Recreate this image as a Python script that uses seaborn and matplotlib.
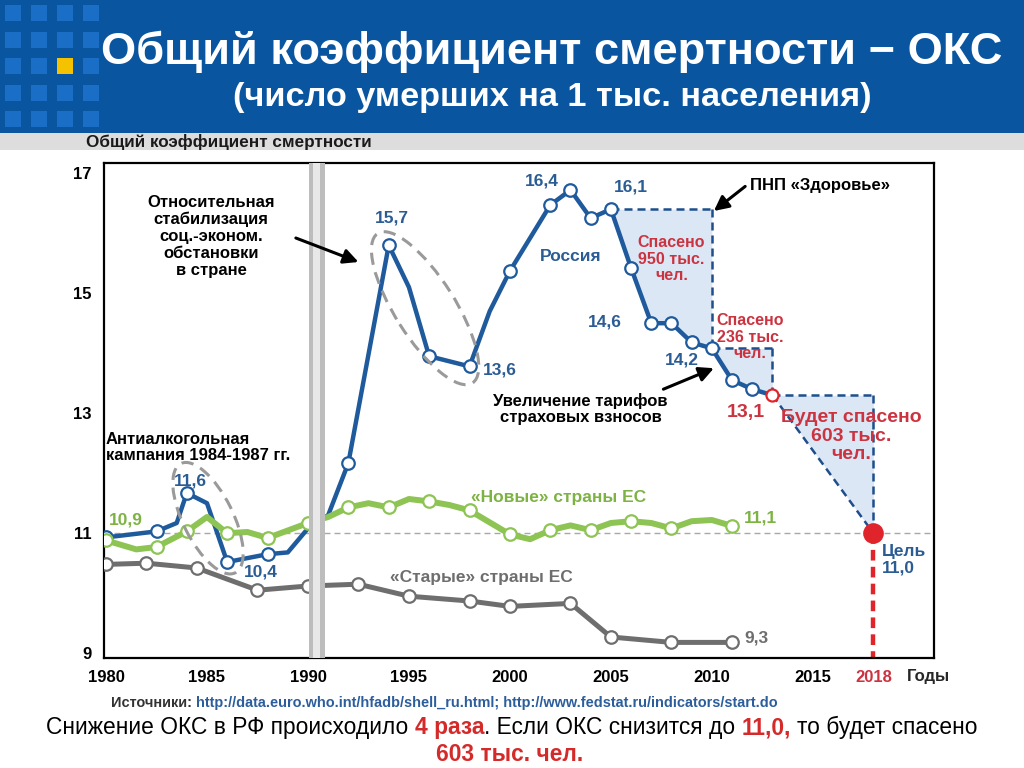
import numpy as np
import pandas as pd
import seaborn as sns
import matplotlib.pyplot as plt
from matplotlib import font_manager
from matplotlib.patches import Rectangle, Ellipse
from matplotlib.transforms import IdentityTransform

# Crude death rate, deaths per 1000 population
# Russia
ru_year = [1980, 1982.5, 1983.5, 1984, 1985, 1986, 1988, 1989, 1990, 1991,
           1992, 1994, 1995, 1996, 1998, 1999, 2000, 2002, 2003, 2004,
           2005, 2006, 2007, 2008, 2009, 2010, 2011, 2012, 2013]
ru_rate = [10.93, 11.03, 11.17, 11.67, 11.5, 10.52, 10.65, 10.68, 11.08, 11.3,
           12.17, 15.8, 15.1, 13.95, 13.78, 14.7, 15.37, 16.47, 16.72, 16.25,
           16.4, 15.42, 14.5, 14.5, 14.18, 14.08, 13.55, 13.4, 13.3]
ru_mark = [1, 1, 0, 1, 0, 1, 1, 0, 0, 0,
           1, 1, 0, 1, 1, 0, 1, 1, 1, 1,
           1, 1, 1, 1, 1, 1, 1, 1, 0]

# "new" EU countries
new_year = [1980, 1981.5, 1982.5, 1984, 1985, 1986, 1987, 1988, 1990, 1991,
            1992, 1993, 1994, 1995, 1996, 1997, 1998, 1999, 2000, 2001,
            2002, 2003, 2004, 2005, 2006, 2007, 2008, 2009, 2010, 2011]
new_rate = [10.88, 10.73, 10.77, 11.03, 11.27, 11.0, 11.02, 10.92, 11.17, 11.27,
            11.43, 11.5, 11.43, 11.57, 11.53, 11.47, 11.38, 11.18, 10.98, 10.9,
            11.05, 11.13, 11.05, 11.17, 11.2, 11.17, 11.08, 11.2, 11.22, 11.12]
new_mark = [1, 0, 1, 1, 0, 1, 0, 1, 1, 0,
            1, 0, 1, 0, 1, 0, 1, 0, 1, 0,
            1, 0, 1, 0, 1, 0, 1, 0, 0, 1]

# "old" EU countries
old_year = [1980, 1982, 1984.5, 1987.5, 1990, 1992.5, 1995, 1998, 2000, 2003, 2005, 2008, 2011]
old_rate = [10.48, 10.5, 10.42, 10.05, 10.12, 10.15, 9.95, 9.87, 9.78, 9.83, 9.27, 9.18, 9.18]

# target
goal_year = 2018
goal_rate = 11.0
pnp_start = 2005      # national project "Health"
tariff_year = 2010    # insurance tariffs raised

x_ticks = [1980, 1985, 1990, 1995, 2000, 2005, 2010, 2015, 2018]
y_ticks = [9, 11, 13, 15, 17]

ru = pd.DataFrame({'year': ru_year, 'rate': ru_rate, 'mark': ru_mark})
new = pd.DataFrame({'year': new_year, 'rate': new_rate, 'mark': new_mark})
old = pd.DataFrame({'year': old_year, 'rate': old_rate})

BLUE = '#1e5a9c'
BLUE_TXT = '#2b5c94'
GREEN = '#8dc453'
GREEN_TXT = '#7db343'
GRAY = '#6e6e6e'
RED = '#e0242b'
RED_TXT = '#cc3340'
FILL = '#dbe7f5'

W, H = 1024, 768
sns.set_style('white')
plt.rcParams['font.family'] = ['Liberation Sans', 'DejaVu Sans']
plt.rcParams['axes.linewidth'] = 1.6
names = {f.name for f in font_manager.fontManager.ttflist}
NARROW = ['Liberation Sans Narrow', 'Liberation Sans'] if 'Liberation Sans Narrow' in names else ['Liberation Sans']

fig = plt.figure(figsize=(W / 100, H / 100), dpi=100)
fig.patch.set_facecolor('white')
renderer = fig.canvas.get_renderer()


def fy(y):
    return 1 - y / H


def fit(t, width):
    w = t.get_window_extent(renderer).width
    t.set_fontsize(t.get_fontsize() * width / w)


def rich_line(parts, xc, y, width, size, family=None):
    texts = [fig.text(0, fy(y), s, color=c, fontweight=wt, fontsize=size, va='baseline',
                      family=family or plt.rcParams['font.family'])
             for s, c, wt, sp in parts]

    def total(sz):
        ws = [t.get_window_extent(renderer).width for t in texts]
        return ws, sum(ws) + sum(p[3] for p in parts) * 0.278 * sz * 100 / 72

    _, tot = total(size)
    size = size * width / tot
    for t in texts:
        t.set_fontsize(size)
    ws, tot = total(size)
    x = xc - tot / 2
    for t, w, p in zip(texts, ws, parts):
        x += p[3] * 0.278 * size * 100 / 72
        t.set_x(x / W)
        x += w
    return size


# header
fig.add_artist(Rectangle((0, fy(133)), 1, 133 / H, transform=fig.transFigure, color='#0a55a0', lw=0))
fig.add_artist(Rectangle((0, fy(150)), 1, 17 / H, transform=fig.transFigure, color='#dddddd', lw=0))
for i in range(4):
    for j in range(5):
        c = '#f5c200' if (i, j) == (2, 2) else '#1b6ec6'
        fig.add_artist(Rectangle(((5 + 26 * i) / W, fy(5 + 26.6 * j + 16)), 16 / W, 16 / H,
                                 transform=fig.transFigure, color=c, lw=0))

t = fig.text(552 / W, fy(64), 'Общий коэффициент смертности − ОКС', color='white',
             fontsize=30, fontweight='bold', ha='center', va='baseline')
fit(t, 900)
t = fig.text(552 / W, fy(106), '(число умерших на 1 тыс. населения)', color='white',
             fontsize=22, fontweight='bold', ha='center', va='baseline')
fit(t, 640)
t = fig.text(86 / W, fy(147), 'Общий коэффициент смертности', color='#1a1a1a',
             fontsize=11, fontweight='bold', ha='left', va='baseline', family=NARROW)
fit(t, 285)

# chart
ax = fig.add_axes([104 / W, fy(658), 830 / W, 495 / H])
ax.set_xlim(1979.9, 2021.0)
ax.set_ylim(8.92, 17.17)
y_bottom = ax.get_ylim()[0]

ax.axhline(goal_rate, color='#a8a8a8', lw=1, dashes=(4.3, 2.9), zorder=1)

# saved-lives areas
v_pnp = ru.loc[ru.year == pnp_start, 'rate'].iloc[0]
v_tar = ru.loc[ru.year == tariff_year, 'rate'].iloc[0]
last_year, v_last = ru_year[-1], ru_rate[-1]
seg1 = ru[(ru.year >= pnp_start) & (ru.year <= tariff_year)]
seg2 = ru[(ru.year >= tariff_year) & (ru.year <= last_year)]
ax.fill_between(seg1.year, seg1.rate, v_pnp, color=FILL, lw=0, zorder=1.5)
ax.fill_between(seg2.year, seg2.rate, v_tar, color=FILL, lw=0, zorder=1.5)
ax.fill_between([last_year, goal_year], [v_last, goal_rate], v_last, color=FILL, lw=0, zorder=1.5)

dash_kw = dict(color='#1f4e8c', lw=1.8, dashes=(3.2, 2.0), zorder=2)
ax.plot([pnp_start, tariff_year], [v_pnp, v_pnp], **dash_kw)
ax.plot([tariff_year, tariff_year], [v_pnp, v_tar], **dash_kw)
ax.plot([tariff_year, last_year], [v_tar, v_tar], **dash_kw)
ax.plot([last_year, last_year], [v_tar, v_last], **dash_kw)
ax.plot([last_year, goal_year], [v_last, v_last], **dash_kw)
ax.plot([goal_year, goal_year], [v_last, goal_rate], **dash_kw)
ax.plot([last_year, goal_year], [v_last, goal_rate], **dash_kw)

ax.plot([goal_year, goal_year], [goal_rate, y_bottom], color=RED, lw=3.2, dashes=(2.4, 1.4),
        zorder=2, solid_capstyle='butt')

# series
sns.lineplot(data=old, x='year', y='rate', ax=ax, color=GRAY, lw=3.6, sort=False, estimator=None,
             marker='o', markersize=9, markerfacecolor='white', markeredgecolor=GRAY,
             markeredgewidth=1.6, zorder=3)
sns.lineplot(data=ru, x='year', y='rate', ax=ax, color=BLUE, lw=3.2, sort=False, estimator=None,
             marker='o', markevery=[bool(m) for m in ru_mark], markersize=9,
             markerfacecolor='white', markeredgecolor=BLUE, markeredgewidth=1.6, zorder=3.2)
sns.lineplot(data=new, x='year', y='rate', ax=ax, color=GREEN, lw=4.3, sort=False, estimator=None,
             marker='o', markevery=[bool(m) for m in new_mark], markersize=9,
             markerfacecolor='white', markeredgecolor=GREEN, markeredgewidth=1.6, zorder=3.4)
sns.scatterplot(x=[last_year], y=[v_last], ax=ax, s=75, color='white', edgecolor=RED,
                linewidth=1.6, zorder=5)
sns.scatterplot(x=[goal_year], y=[goal_rate], ax=ax, s=190, color=RED, edgecolor=RED, zorder=6)

# 1991 break
ax.axvspan(1990.05, 1990.85, color='#bdbdbd', lw=0, zorder=6)
ax.axvspan(1990.25, 1990.6, color='#e8e8e8', lw=0, zorder=6.1)

# axes styling
ax.set_xticks(x_ticks)
ax.set_xticklabels([str(v) for v in x_ticks])
ax.set_yticks(y_ticks)
ax.set_yticklabels([str(v) for v in y_ticks])
ax.tick_params(direction='inout', length=14, width=1.5, labelsize=12, pad=2, colors='black')
for lab in ax.get_xticklabels() + ax.get_yticklabels():
    lab.set_fontweight('bold')
ax.get_xticklabels()[-1].set_color(RED_TXT)
ax.set_xlabel('')
ax.set_ylabel('')
for s in ax.spines.values():
    s.set_color('black')
fig.text(928 / W, fy(676), 'Годы', fontsize=12, fontweight='bold', ha='center', va='center')

# ellipses around the two episodes
fig.canvas.draw()
for (cx, cy), major, minor, ang in [((1985.05, 11.25), 122, 50, -63.6),
                                    ((1995.8, 14.75), 177, 60, -57.7)]:
    px, py = ax.transData.transform((cx, cy))
    fig.add_artist(Ellipse((px, py), major, minor, angle=ang, transform=IdentityTransform(),
                           fill=False, ec='#9a9a9a', lw=2.2, ls=(0, (4, 2.5)), zorder=7))

# labels
def lab(x, y, s, color, size=12.5, ha='center', **kw):
    ax.text(x, y, s, color=color, fontsize=size, fontweight='bold', ha=ha, va='center',
            linespacing=1.15, zorder=8, **kw)


lab(1994.16, 16.25, '15,7', BLUE_TXT)
lab(1999.5, 13.72, '13,6', BLUE_TXT)
lab(2001.6, 16.87, '16,4', BLUE_TXT)
lab(2006.0, 16.77, '16,1', BLUE_TXT)
lab(2003.0, 15.62, 'Россия', BLUE_TXT)
lab(2004.7, 14.52, '14,6', BLUE_TXT)
lab(2008.5, 13.88, '14,2', BLUE_TXT)
lab(1984.2, 11.87, '11,6', BLUE_TXT)
lab(1987.65, 10.35, '10,4', BLUE_TXT)
lab(2018.4, 10.56, 'Цель\n11,0', BLUE_TXT, ha='left')
lab(1981.0, 11.22, '10,9', GREEN_TXT)
lab(2011.6, 11.25, '11,1', GREEN_TXT, ha='left')
lab(2002.4, 11.6, '«Новые» страны ЕС', GREEN_TXT)
lab(1998.6, 10.27, '«Старые» страны ЕС', GRAY)
lab(2011.6, 9.25, '9,3', GRAY, ha='left')
lab(2011.7, 13.02, '13,1', RED_TXT, size=14)
lab(2008.0, 15.57, 'Спасено\n950 тыс.\nчел.', RED_TXT, size=11.5)
lab(2011.9, 14.27, 'Спасено\n236 тыс.\nчел.', RED_TXT, size=11.5)
lab(2016.9, 12.62, 'Будет спасено\n603 тыс.\nчел.', RED_TXT, size=14)
lab(1985.2, 15.95, 'Относительная\nстабилизация\nсоц.-эконом.\nобстановки\nв стране', 'black', size=12)
lab(1980.0, 12.43, 'Антиалкогольная\nкампания 1984-1987 гг.', 'black', size=12, ha='left')
lab(2003.5, 13.07, 'Увеличение тарифов\nстраховых взносов', 'black', size=12)
lab(2011.9, 16.8, 'ПНП «Здоровье»', 'black', size=12, ha='left')

arrow = dict(arrowstyle='-|>', color='black', lw=2.2, mutation_scale=22, shrinkA=0, shrinkB=0)
ax.annotate('', xy=(1992.5, 15.52), xytext=(1989.4, 15.92), arrowprops=arrow, zorder=8)
ax.annotate('', xy=(2010.1, 16.37), xytext=(2011.65, 16.78), arrowprops=arrow, zorder=8)
ax.annotate('', xy=(2010.1, 13.75), xytext=(2007.6, 13.4), arrowprops=arrow, zorder=8)

# footer
rich_line([('Источники:', '#333333', 'bold', 0),
           ('http://data.euro.who.int/hfadb/shell_ru.html; http://www.fedstat.ru/indicators/start.do',
            '#2d5e9c', 'bold', 1)], 444, 707, 673, 8, family=NARROW)
size = rich_line([('Снижение ОКС в РФ происходило', 'black', 'normal', 0),
                  ('4 раза', '#d42a2a', 'bold', 1),
                  ('. Если ОКС снизится до', 'black', 'normal', 0),
                  ('11,0,', '#d42a2a', 'bold', 1),
                  ('то будет спасено', 'black', 'normal', 1)], 512, 734, 931, 14.5)
fig.text(510 / W, fy(761), '603 тыс. чел.', color='#d42a2a', fontsize=size, fontweight='bold',
         ha='center', va='baseline')

fig.savefig('out.png', dpi=100)
